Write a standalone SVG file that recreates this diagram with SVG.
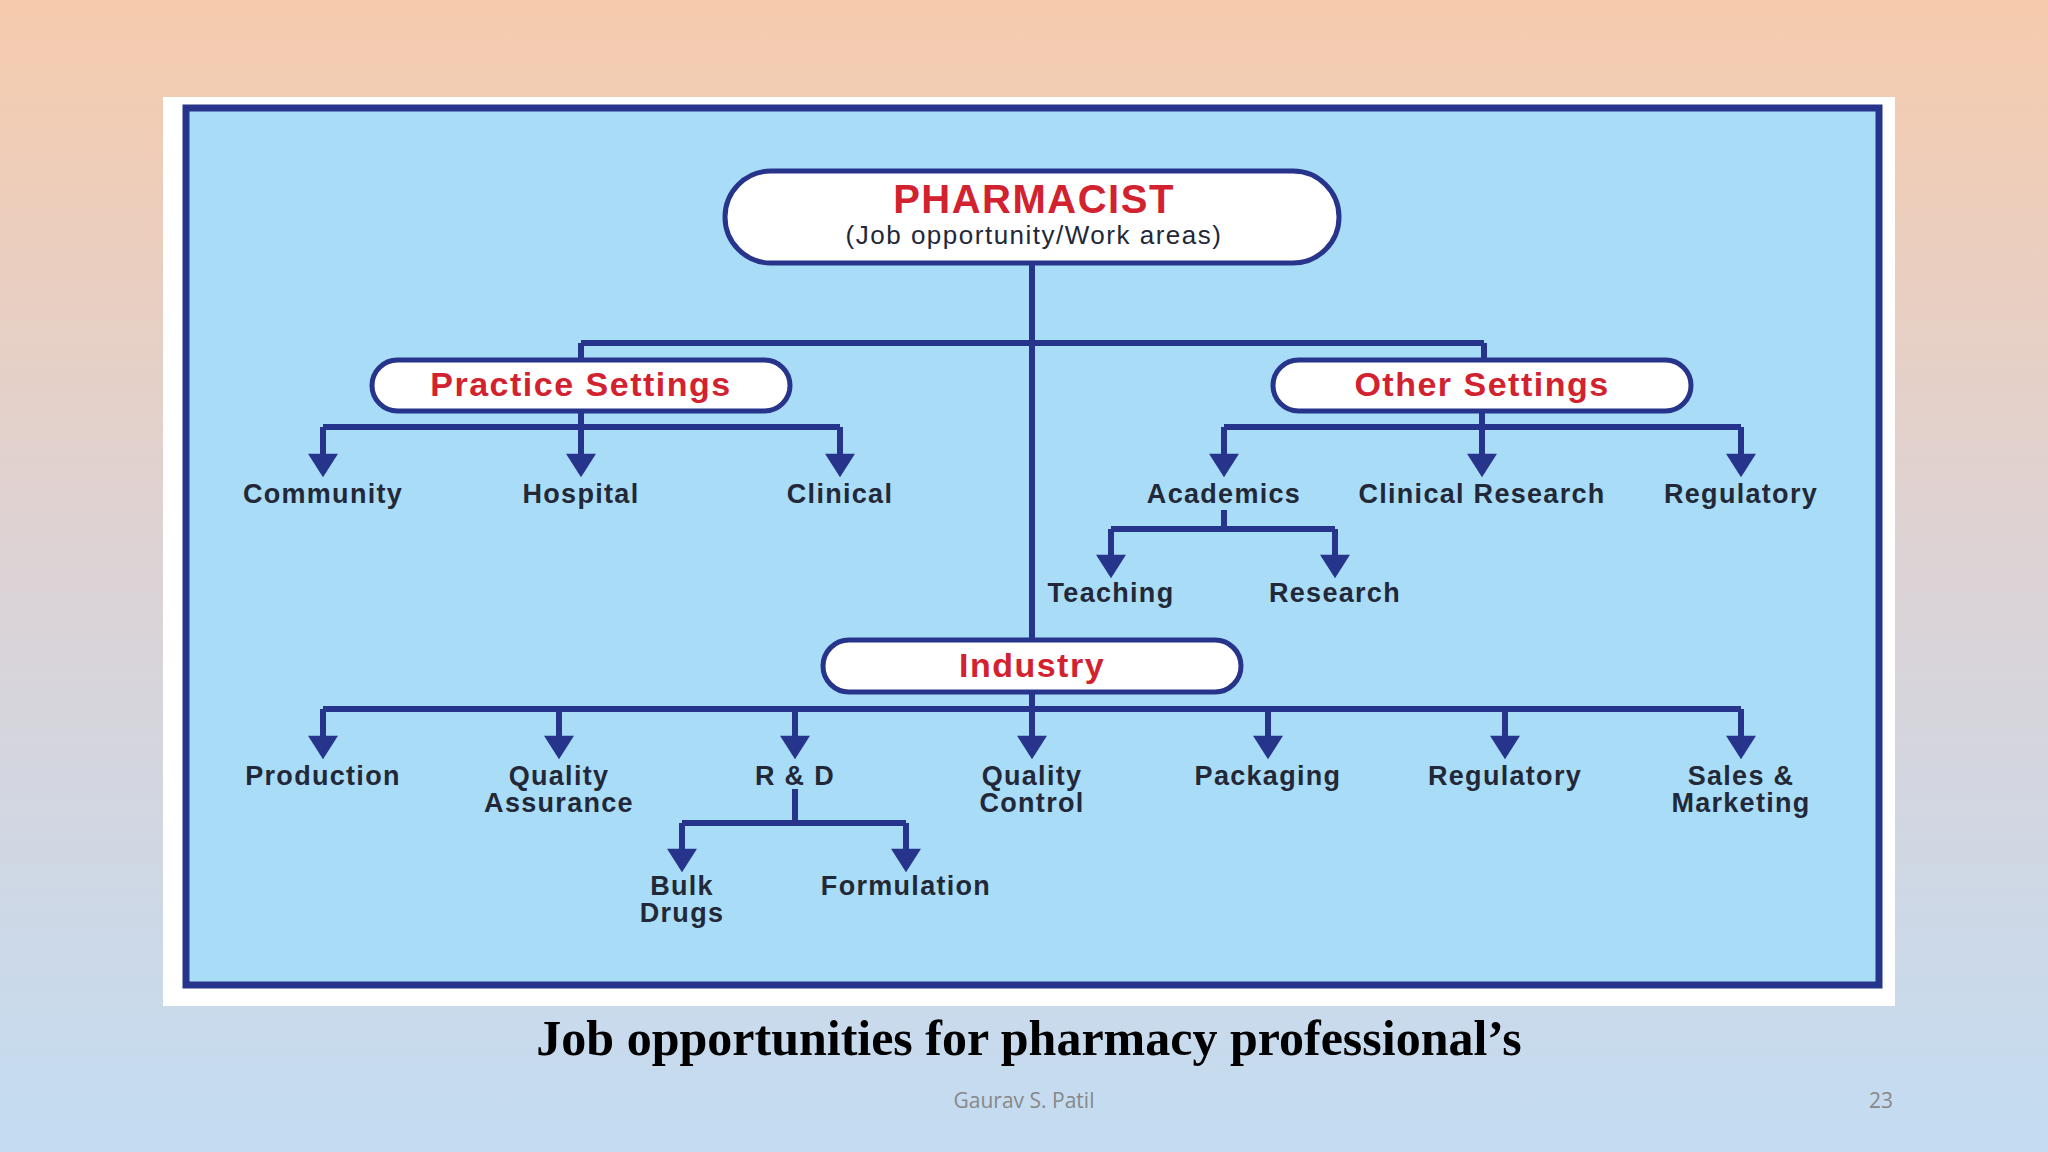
<svg xmlns="http://www.w3.org/2000/svg" width="2048" height="1152" viewBox="0 0 2048 1152">
<defs>
<linearGradient id="bg" x1="0" y1="0" x2="0" y2="1">
<stop offset="0" stop-color="#f6cbad"/><stop offset="0.5" stop-color="#dcd3d6"/><stop offset="1" stop-color="#c3dcf2"/>
</linearGradient>
<marker id="ah" markerUnits="userSpaceOnUse" markerWidth="26" markerHeight="30" refX="18" refY="14" orient="auto" viewBox="0 0 22 28">
<path d="M0,0 L22,14 L0,28 Z" fill="#27348b"/>
</marker>
<style>
.ln{stroke:#27348b;stroke-width:6;fill:none}
.ar{stroke:#27348b;stroke-width:6;fill:none;marker-end:url(#ah)}
.pill{fill:#fff;stroke:#27348b;stroke-width:5}
.pt{font-family:"Liberation Sans",Arial,sans-serif;font-weight:bold;fill:#d3222f;text-anchor:middle;letter-spacing:1.5px}
.lb{font-family:"Liberation Sans",Arial,sans-serif;font-weight:bold;font-size:27px;letter-spacing:1.3px;fill:#232838;text-anchor:middle}
</style>
</defs>
<rect width="2048" height="1152" fill="url(#bg)"/>
<rect x="163" y="97" width="1732" height="909" fill="#fff"/>
<rect x="186" y="108" width="1693" height="877" fill="#a9dcf6" stroke="#27348b" stroke-width="7"/>
<g id="connectors">
<path class="ln" d="M1032,263 V640 M581,343 H1484 M581,343 V360 M1484,343 V360"/>
<path class="ln" d="M581,411 V427 M323,427 H840"/>
<path class="ar" d="M323,427 V473"/><path class="ar" d="M581,427 V473"/><path class="ar" d="M840,427 V473"/>
<path class="ln" d="M1482,411 V427 M1224,427 H1741"/>
<path class="ar" d="M1224,427 V473"/><path class="ar" d="M1482,427 V473"/><path class="ar" d="M1741,427 V473"/>
<path class="ln" d="M1224,510 V529 M1111,529 H1335"/>
<path class="ar" d="M1111,529 V574"/><path class="ar" d="M1335,529 V574"/>
<path class="ln" d="M323,709 H1741"/>
<path class="ar" d="M323,709 V755"/><path class="ar" d="M559,709 V755"/><path class="ar" d="M795,709 V755"/><path class="ar" d="M1032,692 V755"/><path class="ar" d="M1268,709 V755"/><path class="ar" d="M1505,709 V755"/><path class="ar" d="M1741,709 V755"/>
<path class="ln" d="M795,789 V823 M682,823 H906"/>
<path class="ar" d="M682,823 V868"/><path class="ar" d="M906,823 V868"/>
</g>
<g id="pharmacist"><rect class="pill" x="725" y="171" width="614" height="92" rx="46"/>
<text class="pt" x="1034" y="213" font-size="40">PHARMACIST</text>
<text x="1034" y="244" font-family="Liberation Sans,Arial,sans-serif" font-size="26" letter-spacing="1.5" fill="#232838" text-anchor="middle">(Job opportunity/Work areas)</text></g>
<g id="practice"><rect class="pill" x="372" y="360" width="418" height="51" rx="25.5"/><text class="pt" x="581" y="396" font-size="34">Practice Settings</text></g>
<g id="other"><rect class="pill" x="1273" y="360" width="418" height="51" rx="25.5"/><text class="pt" x="1482" y="396" font-size="34">Other Settings</text></g>
<g id="industry"><rect class="pill" x="823" y="640" width="418" height="52" rx="26"/><text class="pt" x="1032" y="677" font-size="34">Industry</text></g>
<g id="community"><text class="lb" x="323" y="503">Community</text></g>
<g id="hospital"><text class="lb" x="581" y="503">Hospital</text></g>
<g id="clinical"><text class="lb" x="840" y="503">Clinical</text></g>
<g id="academics"><text class="lb" x="1224" y="503">Academics</text></g>
<g id="clinres"><text class="lb" x="1482" y="503">Clinical Research</text></g>
<g id="regulatory1"><text class="lb" x="1741" y="503">Regulatory</text></g>
<g id="teaching"><text class="lb" x="1111" y="602">Teaching</text></g>
<g id="research"><text class="lb" x="1335" y="602">Research</text></g>
<g id="production"><text class="lb" x="323" y="785">Production</text></g>
<g id="qa"><text class="lb" x="559" y="785">Quality</text><text class="lb" x="559" y="812">Assurance</text></g>
<g id="rd"><text class="lb" x="795" y="785">R &amp; D</text></g>
<g id="qc"><text class="lb" x="1032" y="785">Quality</text><text class="lb" x="1032" y="812">Control</text></g>
<g id="packaging"><text class="lb" x="1268" y="785">Packaging</text></g>
<g id="regulatory2"><text class="lb" x="1505" y="785">Regulatory</text></g>
<g id="sales"><text class="lb" x="1741" y="785">Sales &amp;</text><text class="lb" x="1741" y="812">Marketing</text></g>
<g id="bulk"><text class="lb" x="682" y="895">Bulk</text><text class="lb" x="682" y="922">Drugs</text></g>
<g id="formulation"><text class="lb" x="906" y="895">Formulation</text></g>
<text x="1029" y="1055" font-family="Liberation Serif,Times New Roman,serif" font-weight="bold" font-size="50" fill="#000" text-anchor="middle">Job opportunities for pharmacy professional’s</text>
<text x="1024" y="1108" font-family="Open Sans,Liberation Sans,sans-serif" font-size="21" fill="#888" text-anchor="middle">Gaurav S. Patil</text>
<text x="1881" y="1108" font-family="Open Sans,Liberation Sans,sans-serif" font-size="21" fill="#888" text-anchor="middle">23</text>
</svg>
